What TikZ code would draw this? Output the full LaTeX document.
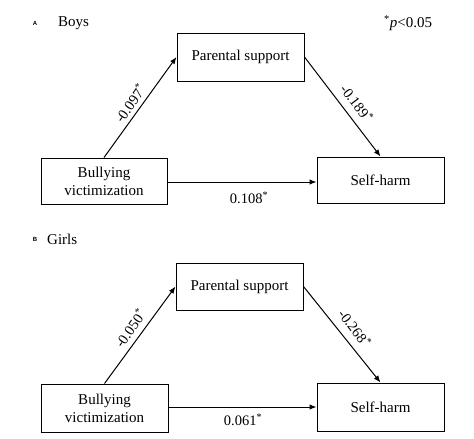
\documentclass[tikz,border=0pt]{standalone}
\usepackage{fontspec}
\setmainfont{Liberation Serif}
\setsansfont{Liberation Sans}
\usetikzlibrary{arrows.meta}
\begin{document}
\begin{tikzpicture}[x=1pt,y=-1pt,
  box/.style={draw=black,line width=1pt,rectangle,minimum width=127pt,minimum height=47pt,inner sep=0pt,align=center,font=\fontsize{15}{18}\selectfont},
  arr/.style={draw=black,line width=1pt,-{Latex[length=7pt,width=5.5pt]}},
  coef/.style={font=\fontsize{14.5}{17}\selectfont,inner sep=0pt},
  panel/.style={font=\fontsize{6}{7}\sffamily\bfseries,inner sep=0pt},
  title/.style={font=\fontsize{15}{18}\selectfont,inner sep=0pt,anchor=west}]
\useasboundingbox[fill=white] (0,0) rectangle (474,439);
% Panel A
\node[panel] (pA) at (35,23) {A};
\node[title] (tA) at (58,23) {Boys};
\node[title] (pv) at (384,23) {\textsuperscript{*}\textit{p}<0.05};
\node[box,minimum height=48pt] (psA) at (240.5,57) {Parental support};
\node[box,minimum width=126pt,minimum height=46pt] (bvA) at (104,181) {Bullying\\victimization};
\node[box,minimum height=46pt] (shA) at (380.5,180) {Self-harm};
\draw[arr] (bvA.north) -- (psA.west);
\draw[arr] (psA.east) -- (shA.north);
\draw[arr] (bvA.east |- 0,182) -- (shA.west |- 0,182);
\node[coef,rotate=55] (cA1) at (130,103) {-0.097\textsuperscript{*}};
\node[coef,rotate=-53] (cA2) at (357,103) {-0.189\textsuperscript{*}};
\node[coef] (cA3) at (249,198) {0.108\textsuperscript{*}};
% Panel B
\node[panel] (pB) at (35,239) {B};
\node[title] (tB) at (47,239) {Girls};
\node[box] (psB) at (239.5,286.5) {Parental support};
\node[box,minimum height=48pt] (bvB) at (104.5,408) {Bullying\\victimization};
\node[box,minimum height=48pt] (shB) at (380.5,407) {Self-harm};
\draw[arr] (bvB.north) -- (psB.west);
\draw[arr] (psB.east) -- (shB.north);
\draw[arr] (bvB.east |- 0,407) -- (shB.west |- 0,407);
\node[coef,rotate=55] (cB1) at (130,328) {-0.050\textsuperscript{*}};
\node[coef,rotate=-53] (cB2) at (355,328) {-0.268\textsuperscript{*}};
\node[coef] (cB3) at (243,420) {0.061\textsuperscript{*}};
\end{tikzpicture}
\end{document}
